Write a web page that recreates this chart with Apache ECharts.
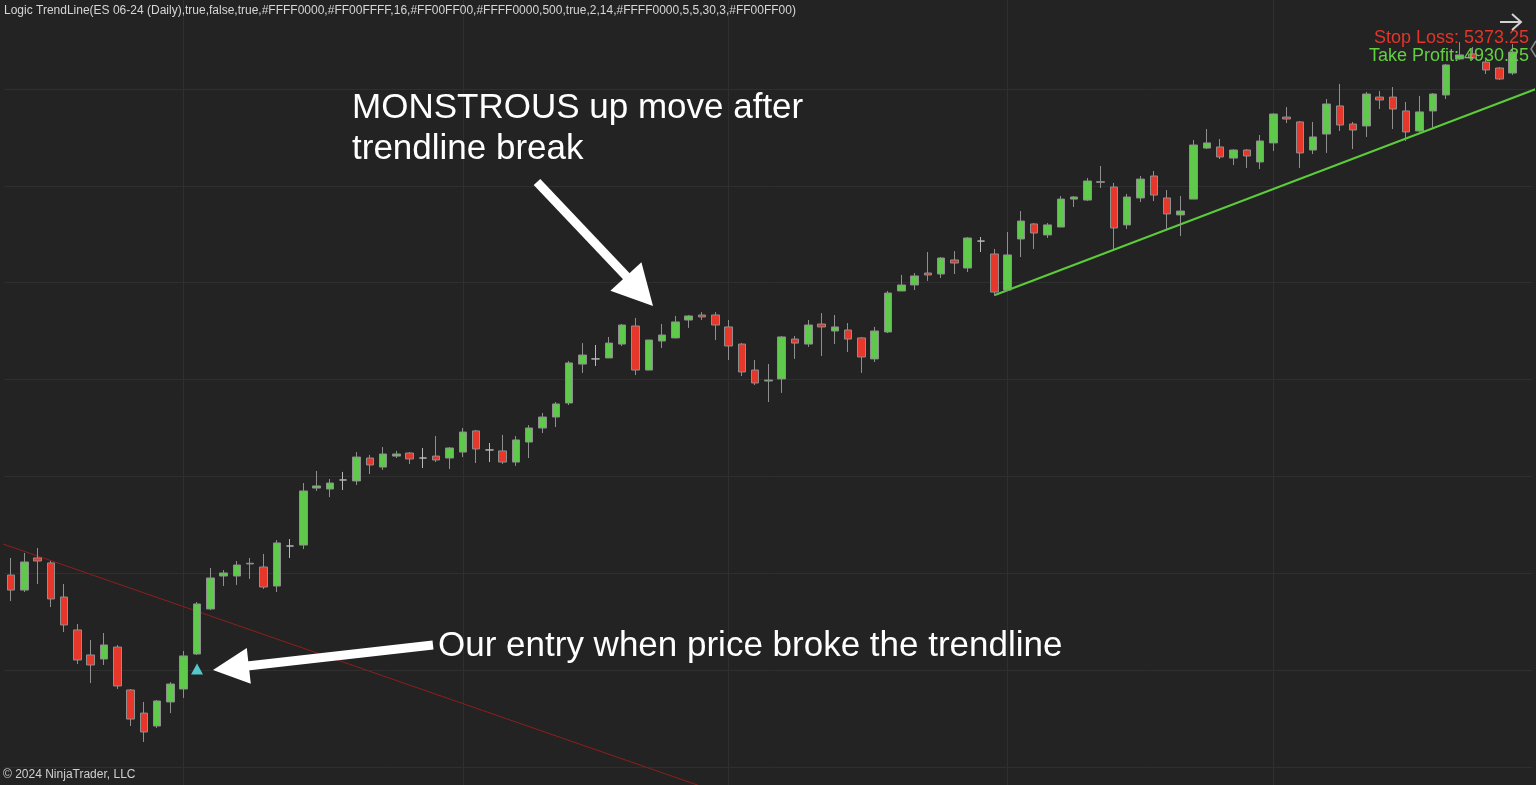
<!DOCTYPE html>
<html>
<head>
<meta charset="utf-8">
<script src="https://cdn.jsdelivr.net/npm/echarts@6/dist/echarts.min.js"></script>
<style>
html,body{margin:0;padding:0;background:#232323;overflow:hidden;}
#c{width:1536px;height:785px;}
</style>
</head>
<body>
<div id="c"></div>
<script>
// ---------- data ----------
const dates = [
'2023-10-13','2023-10-16','2023-10-17','2023-10-18','2023-10-19','2023-10-20','2023-10-23','2023-10-24','2023-10-25','2023-10-26','2023-10-27','2023-10-30','2023-10-31',
'2023-11-01','2023-11-02','2023-11-03','2023-11-06','2023-11-07','2023-11-08','2023-11-09','2023-11-10','2023-11-13','2023-11-14','2023-11-15','2023-11-16','2023-11-17','2023-11-20','2023-11-21','2023-11-22','2023-11-24','2023-11-27','2023-11-28','2023-11-29','2023-11-30',
'2023-12-01','2023-12-04','2023-12-05','2023-12-06','2023-12-07','2023-12-08','2023-12-11','2023-12-12','2023-12-13','2023-12-14','2023-12-15','2023-12-18','2023-12-19','2023-12-20','2023-12-21','2023-12-22','2023-12-26','2023-12-27','2023-12-28','2023-12-29',
'2024-01-02','2024-01-03','2024-01-04','2024-01-05','2024-01-08','2024-01-09','2024-01-10','2024-01-11','2024-01-12','2024-01-16','2024-01-17','2024-01-18','2024-01-19','2024-01-22','2024-01-23','2024-01-24','2024-01-25','2024-01-26','2024-01-29','2024-01-30','2024-01-31',
'2024-02-01','2024-02-02','2024-02-05','2024-02-06','2024-02-07','2024-02-08','2024-02-09','2024-02-12','2024-02-13','2024-02-14','2024-02-15','2024-02-16','2024-02-20','2024-02-21','2024-02-22','2024-02-23','2024-02-26','2024-02-27','2024-02-28','2024-02-29',
'2024-03-01','2024-03-04','2024-03-05','2024-03-06','2024-03-07','2024-03-08','2024-03-11','2024-03-12','2024-03-13','2024-03-14','2024-03-15','2024-03-18','2024-03-19','2024-03-20','2024-03-21','2024-03-22','2024-03-25','2024-03-26','2024-03-27'
];
const padDates = ['2024-03-28'];

const opens = [
4447.25,4424,4473.75,4466,4413.25,4362.25,4323.5,4317.25,4335.75,4269.25,4233.5,4213.5,4250.75,
4270.75,4325,4394.75,4445.75,4445.75,4464.5,4459.75,4430.25,4492.25,4493.75,4582,4580.5,4594.5,4593,4628.5,4614.5,4631.5,4636.25,4628.5,4631.5,4628.5,
4637.75,4670.5,4641,4639.5,4622.25,4653.25,4675,4692,4713.75,4774,4782,4783.5,4805,4833,4764.75,4809.75,4814.5,4842.25,4850,4850,
4831.5,4805,4764.75,4747.75,4751,4812.75,4805,4836,4825.25,4826.75,4814.5,4782,4823.75,4887.25,4896.5,4915,4913.5,4935.25,4922.75,4964.5,4944.5,
4888.75,4967.75,4991,4974,4986.25,5029.5,5028,5056.5,5048.25,4989.5,5031.25,5065.25,5031.25,5005,5029.5,5108.5,5110.25,5093,5105.5,5087,
5116.5,5156.5,5149,5105.5,5130.25,5173.75,5145.75,5142.75,5187.5,5187.5,5166,5135,5166,5190.75,5246.5,5254.25,5241.75,5232.5,5224.75
];
const closes = [
4424,4467.5,4469,4410.25,4370,4315.75,4308,4339,4275.5,4224.25,4204.25,4252.25,4278.5,
4322,4402.5,4442.75,4450.5,4462.75,4465.5,4428.75,4497,4492.25,4577.5,4585.25,4589.75,4594.5,4630,4617.75,4634.75,4634.75,4627,4628.5,4625.5,4644,
4668.75,4642.5,4641,4622.25,4656.5,4675,4692,4712.25,4775.75,4788,4782,4806.5,4834.5,4764.75,4811.25,4819,4839.25,4848.5,4847,4834.5,
4802,4761.75,4744.75,4749.25,4816,4806.5,4834.5,4831.5,4831.5,4812.75,4785,4825.25,4884,4896.5,4910.5,4912,4938.25,4930.5,4969.25,4964.5,4885.5,
4943,4995.5,4977,4989.5,5029.5,5032.75,5057.5,5055.5,4984.75,5032.75,5060.5,5035.75,5006.5,5011,5113.25,5116.5,5094.75,5105.5,5096.25,5119.5,
5161.25,5153.5,5101,5125.75,5176.75,5144.25,5136.5,5192.25,5183,5169,5133.5,5164.5,5192.25,5237.25,5252.75,5248,5229.5,5215.5,5257.25
];
const lows = [
4407,4421,4433.5,4397.75,4359,4309.5,4280,4308,4270.75,4213.5,4188.75,4210.5,4233.5,
4257,4323.5,4393,4430.25,4432,4441.25,4425.75,4421,4473.75,4487.5,4577.5,4568,4579,4586.75,4603.75,4610,4628.5,4619.25,4613,4622.25,4611.5,
4630,4620.75,4622.25,4619.25,4616.25,4628.5,4667.25,4676.5,4710.5,4760.25,4771,4783.5,4802,4757,4764.75,4799,4813.75,4830,4842.25,4811.25,
4780.25,4755.5,4741.5,4715.25,4729.25,4782,4800.5,4786.5,4805,4792.75,4760.25,4777.25,4822,4887.25,4888.75,4902.75,4907.25,4913.5,4916.5,4947.5,4879.5,
4888.75,4939.75,4952.25,4969.25,4986.25,5017.25,5026.5,5046.75,4952.25,4983.25,5025,5026.5,4983.25,4972.25,5029.5,5107,5091.5,5082.25,5077.75,5076,
5104,5147.25,5077.75,5099.25,5101,5135,5107,5125.75,5169,5138,5119.5,5133.5,5139.5,5184.5,5245,5245,5223.25,5214,5221.75
];
const highs = [
4473.75,4481.5,4489.25,4469,4433.5,4371.5,4346.75,4357.5,4339,4270.75,4250.75,4253.75,4281.5,
4329.75,4405.5,4458.25,4455,4469,4473.75,4480,4501.5,4503,4589.75,4608.5,4596,4607,4637.75,4633.25,4645.5,4639.5,4637.75,4644,4662.5,4645.5,
4675,4672,4651.75,4664.25,4662.5,4679.5,4698.25,4715.25,4778.75,4806.5,4803.5,4816,4836,4845.5,4811.25,4836,4848.5,4850,4854.5,4854.5,
4842.25,4806.5,4780.25,4774,4817.5,4817.5,4842.25,4853,4850,4837.5,4816,4831.5,4887.25,4912,4915,4947.5,4939.75,4949,4970.75,4970.75,4952.25,
4978.5,5011,4992.5,4992.5,5034.25,5034.25,5062.25,5080.75,5054.5,5037.5,5065.25,5073,5043.5,5034.25,5121,5138,5122.5,5107,5107,5128.75,
5162.75,5172,5150.5,5149,5184.5,5207.75,5149,5195.5,5197,5203,5180,5189.25,5193.75,5238.75,5272.75,5265,5245,5234,5269.75
];

// price scale (no labels are shown on the original)
const priceMin = 4122.12;
const priceMax = 5337.83;
const gridPrices = [4150, 4300, 4450, 4600, 4750, 4900, 5050, 5200];

// signal + drawn trendlines (x = bar index, y = price)
const entryDate = '2023-11-02';
const entryPrice = 4301.75;
const redTrend = [[-0.83, 4497], [51.85, 4120.75]];
const greenTrend = [[74.05, 4881], [114.77, 5200]];

const titleText = 'Logic TrendLine(ES 06-24 (Daily),true,false,true,#FFFF0000,#FF00FFFF,16,#FF00FF00,#FFFF0000,500,true,2,14,#FFFF0000,5,5,30,3,#FF00FF00)';
const stopLossText = 'Stop Loss: 5373.25';
const takeProfitText = 'Take Profit: 4930.25';
const note1a = 'MONSTROUS up move after';
const note1b = 'trendline break';
const note2 = 'Our entry when price broke the trendline';
const copyrightText = '\u00A9 2024 NinjaTrader, LLC';

// ---------- chart ----------
const allDates = dates.concat(padDates);
const N = allDates.length;
const slot = 13.288;
const gridLeft = 11 - slot / 2;

const monthStarts = [];
for (let i = 1; i < dates.length; i++) {
  if (dates[i].slice(0, 7) !== dates[i - 1].slice(0, 7)) monthStarts.push(dates[i]);
}

const candleData = opens.map((o, i) => [o, closes[i], lows[i], highs[i]]);
const FONT = '"Liberation Sans", Arial, sans-serif';

const chart = echarts.init(document.getElementById('c'), null, { renderer: 'canvas' });
chart.setOption({
  backgroundColor: '#232323',
  animation: false,
  grid: { left: gridLeft, top: 0, width: slot * N, height: 785, containLabel: false },
  xAxis: [
    { type: 'category', data: allDates, show: false, boundaryGap: true },
    { type: 'value', min: -0.5, max: N - 0.5, show: false }
  ],
  yAxis: { type: 'value', min: priceMin, max: priceMax, show: false },
  series: [
    {
      type: 'candlestick',
      data: candleData,
      barWidth: 8,
      z: 3,
      silent: true,
      itemStyle: {
        color: '#5fc94c', color0: '#e7372a',
        borderColor: '#8f8f8f', borderColor0: '#8f8f8f', borderColorDoji: '#b8b8b8',
        borderWidth: 1
      },
      markLine: {
        silent: true, symbol: 'none', z: 1, animation: false,
        label: { show: false },
        lineStyle: { color: '#2f2f2f', width: 1, type: 'solid' },
        emphasis: { disabled: true },
        data: gridPrices.map(p => ({ yAxis: p })).concat(monthStarts.map(d => ({ xAxis: d })))
      }
    },
    {
      type: 'line', xAxisIndex: 1, data: redTrend, symbol: 'none', clip: false, silent: true, z: 2,
      lineStyle: { color: '#8e1e1e', width: 1 }
    },
    {
      type: 'line', xAxisIndex: 1, data: greenTrend, symbol: 'none', clip: false, silent: true, z: 2,
      lineStyle: { color: '#5ccd3a', width: 2 }
    },
    {
      type: 'scatter', data: [[entryDate, entryPrice]], symbol: 'triangle', symbolSize: [12, 11],
      silent: true, z: 4, itemStyle: { color: '#5ff0f4' }
    }
  ],
  graphic: [
    { type: 'text', x: 4, y: 10.5, z: 10, style: { text: titleText, font: '12px ' + FONT, fill: '#d6d6d6', verticalAlign: 'middle' } },
    { type: 'text', x: 3, y: 775, z: 10, style: { text: copyrightText, font: '12px ' + FONT, fill: '#cfcfcf', verticalAlign: 'middle' } },
    { type: 'text', x: 1529, y: 38.5, z: 10, style: { text: stopLossText, font: '18px ' + FONT, fill: '#e3352a', align: 'right', verticalAlign: 'middle' } },
    { type: 'text', x: 1529, y: 56.5, z: 10, style: { text: takeProfitText, font: '18px ' + FONT, fill: '#63d13f', align: 'right', verticalAlign: 'middle' } },
    { type: 'text', x: 352, y: 108, z: 10, style: { text: note1a, font: '35px ' + FONT, fill: '#ffffff', verticalAlign: 'middle' } },
    { type: 'text', x: 352, y: 149, z: 10, style: { text: note1b, font: '35px ' + FONT, fill: '#ffffff', verticalAlign: 'middle' } },
    { type: 'text', x: 438, y: 646, z: 10, style: { text: note2, font: '35px ' + FONT, fill: '#ffffff', verticalAlign: 'middle' } },
    // arrow 1 (down-right)
    { type: 'polygon', z: 10, shape: { points: [[533.7, 185.0], [540.3, 179.0], [631.3, 275.0], [624.7, 281.0]] }, style: { fill: '#ffffff' } },
    { type: 'polygon', z: 10, shape: { points: [[653, 306], [610.4, 290.7], [641.4, 262.3]] }, style: { fill: '#ffffff' } },
    // arrow 2 (left)
    { type: 'polygon', z: 10, shape: { points: [[245.5, 670.8], [244.5, 661.8], [432.5, 640.5], [433.5, 649.5]] }, style: { fill: '#ffffff' } },
    { type: 'polygon', z: 10, shape: { points: [[213, 670], [250.8, 683.8], [246.8, 648.0]] }, style: { fill: '#ffffff' } },
    // top-right arrow glyph
    { type: 'polyline', z: 10, shape: { points: [[1500, 22], [1521, 22]] }, style: { stroke: '#d2d2d2', lineWidth: 2, fill: null } },
    { type: 'polyline', z: 10, shape: { points: [[1512, 14], [1521, 22], [1512, 30]] }, style: { stroke: '#d2d2d2', lineWidth: 2, fill: null } },
    // right edge marker
    { type: 'polyline', z: 10, shape: { points: [[1536, 41], [1531, 49], [1536, 57]] }, style: { stroke: '#8a8a8a', lineWidth: 1.5, fill: null } }
  ]
});
</script>
</body>
</html>
